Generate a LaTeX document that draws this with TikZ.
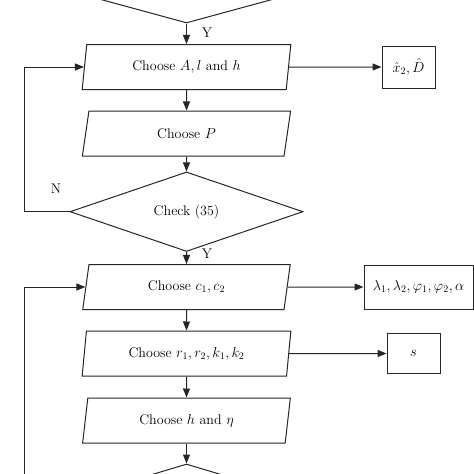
\documentclass[tikz,border=0pt]{standalone}
\usetikzlibrary{shapes.geometric}
\usetikzlibrary{arrows.meta}
\tikzset{
	iostyle/.style={trapezium, trapezium left angle=79, trapezium right angle=101,
		trapezium stretches=true, draw=black!85, line width=1pt,
		minimum width=209pt, minimum height=45pt, inner sep=0pt},
	checkstyle/.style={diamond, draw=black!85, line width=1pt,
		minimum width=233pt, minimum height=70pt, inner sep=0pt},
	outstyle/.style={rectangle, draw=black!85, line width=1pt, inner sep=0pt},
	arrow/.style={-{Stealth[length=9pt, width=7pt, inset=0pt]}, draw=black!85, line width=1pt}
}

\begin{document}
\begin{tikzpicture}[x=1pt, y=-1pt, font=\fontsize{14}{16}\selectfont]
\useasboundingbox (0,0) rectangle (474,474);

\def\xmid{186.5}
\def\xloop{24}

\node[checkstyle, minimum width=256pt] (d0) at (\xmid, -12) {};
\node[iostyle] (p1) at (\xmid, 67)    {Choose $A, l$ and $h$};
\node[iostyle] (p2) at (\xmid, 133.5) {Choose $P$};
\node[checkstyle] (chk) at (\xmid, 211.7) {Check (35)};
\node[iostyle] (p3) at (\xmid, 287)   {Choose $c_1, c_2$};
\node[iostyle] (p4) at (\xmid, 353.5) {Choose $r_1, r_2, k_1, k_2$};
\node[iostyle] (p5) at (\xmid, 420.5) {Choose $h$ and $\eta$};
\node[checkstyle] (d2) at (\xmid, 499) {};

\node[outstyle, minimum width=53pt, minimum height=42pt] (r1) at (408.5, 67) {$\hat{x}_2,\hat{D}$};
\node[outstyle, minimum width=109pt, minimum height=44pt] (r2) at (418.5, 287) {$\lambda_1, \lambda_2, \varphi_1, \varphi_2, \alpha$};
\node[outstyle, minimum width=53pt, minimum height=40pt] (r3) at (413.5, 353.5) {$s$};

\node (y1) at (207, 33) {Y};
\node (y2) at (207, 254) {Y};
\node (n1) at (56, 189) {N};

\coordinate (l1) at (\xloop, 211.7);
\coordinate (l2) at (\xloop, 480);

\draw[arrow] (d0) -- (p1);
\draw[arrow] (p1) -- (p2);
\draw[arrow] (p2) -- (chk);
\draw[arrow] (chk) -- (p3);
\draw[arrow] (p3) -- (p4);
\draw[arrow] (p4) -- (p5);
\draw[arrow] (p5) -- (d2);

\draw[arrow] (chk.west) -- (l1) |- (p1);
\draw[arrow] (l2) |- (p3);

\draw[arrow] (p1) -- (r1);
\draw[arrow] (p3) -- (r2);
\draw[arrow] (p4) -- (r3);
\end{tikzpicture}
\end{document}
